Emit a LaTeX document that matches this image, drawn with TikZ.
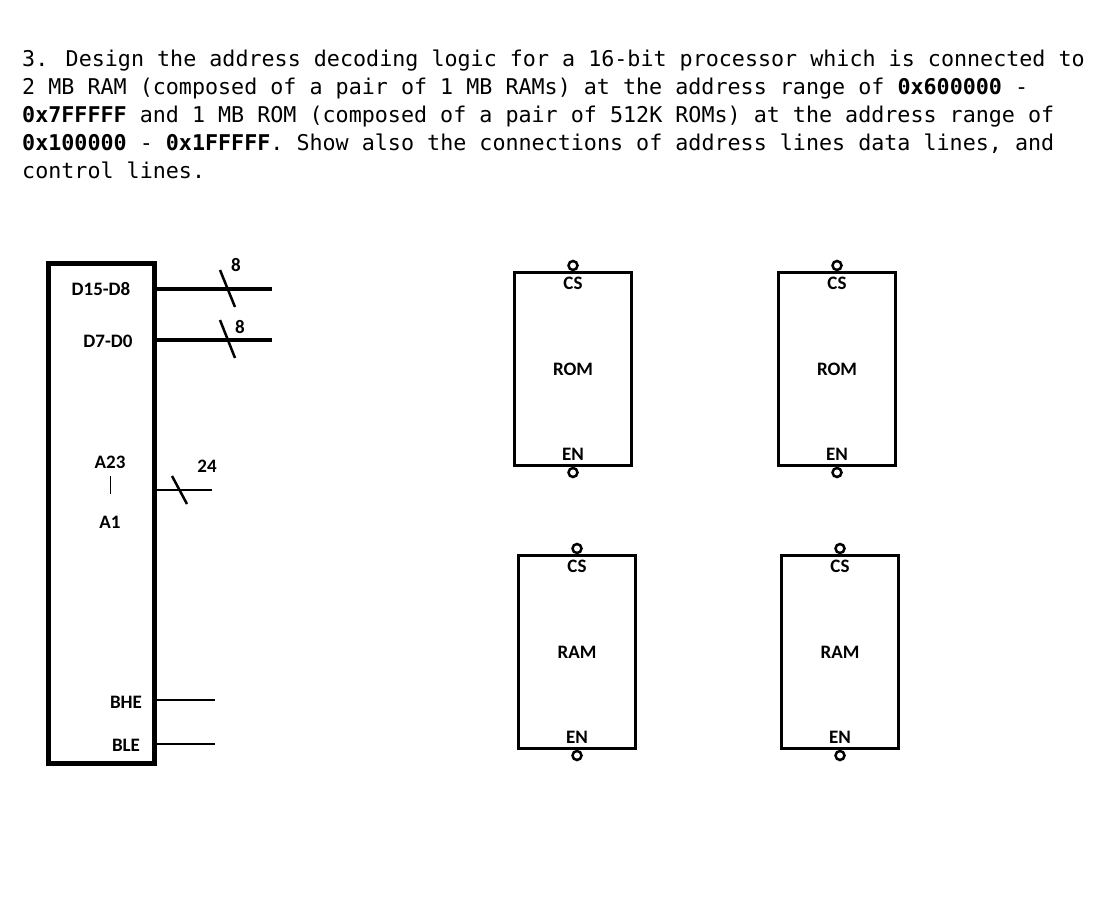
\documentclass[tikz,border=0pt]{standalone}
\usepackage{fontspec}
\setmainfont{Carlito}
\newfontfamily\codefont{DejaVu Sans Mono}
\usetikzlibrary{positioning}
\tikzset{
  lbl/.style={font=\bfseries\fontsize{19}{19}\selectfont, inner sep=0pt},
  chip/.style={draw, line width=2.5pt, minimum width=117pt, minimum height=193pt, inner sep=0pt},
  bubble/.style={circle, draw, line width=2.5pt, minimum size=9pt, inner sep=0pt, fill=white},
  bus/.style={line width=4.5pt},
  wire/.style={line width=2.5pt}
}
\begin{document}
\begin{tikzpicture}[x=1pt,y=-1pt]
	\useasboundingbox (0,0) rectangle (1118,912);
	% Question text
	\node [anchor=north west, align=left, inner sep=0pt, font=\codefont\fontsize{21.7}{28}\selectfont] (question) at (22,50)
	{3. Design the address decoding logic for a 16-bit processor which is connected to\\
	 2 MB RAM (composed of a pair of 1 MB RAMs) at the address range of \textbf{0x600000} -\\
	 \textbf{0x7FFFFF} and 1 MB ROM (composed of a pair of 512K ROMs) at the address range of\\
	 \textbf{0x100000} - \textbf{0x1FFFFF}. Show also the connections of address lines data lines, and\\
	 control lines.};
	% Processor
	\node [draw, line width=5pt, minimum width=106pt, minimum height=500pt, inner sep=0pt] (cpu) at (101,513) {};
	\node [lbl] (d15) at (101,289) {D15-D8};
	\node [lbl] (d7) at (108,341) {D7-D0};
	\node [lbl] (a23) at (110,462) {A23};
	\node [lbl] (a1) at (110,522) {A1};
	\node [lbl] (bhe) at (126,702) {BHE};
	\node [lbl] (ble) at (126,745) {BLE};
	\draw [line width=1pt] (a23.south) ++(0,8) coordinate (bartop) -- ++(0,18);
	% Buses
	\coordinate (dhi) at (272,289);
	\coordinate (dlo) at (272,340);
	\coordinate (addr) at (212,490);
	\coordinate (bhex) at (215,700);
	\coordinate (blex) at (215,744);
	\draw [bus] (cpu.east |- dhi) -- (dhi);
	\draw [bus] (cpu.east |- dlo) -- (dlo);
	\draw [wire] (cpu.east |- addr) -- (addr);
	\draw [wire] (cpu.east |- bhex) -- (bhex);
	\draw [wire] (cpu.east |- blex) -- (blex);
	\draw [wire] (220,270) -- (235,307);
	\draw [wire] (220,320) -- (235,358);
	\draw [wire] (172,476) -- (187,504);
	\node [lbl] (w1) at (236,265) {8};
	\node [lbl] (w2) at (240,327) {8};
	\node [lbl] (w3) at (207,466) {24};
	% Memory chips
	\foreach \name/\kind/\x/\y in {rom1/ROM/573/369, rom2/ROM/837/369, ram1/RAM/577/652, ram2/RAM/840/652} {
		\node [chip] (\name) at (\x,\y) {};
		\node [lbl] at (\name) {\kind};
		\node [lbl, below=6pt of \name.north] {CS};
		\node [lbl, above=6pt of \name.south] {EN};
		\node [bubble, above=0pt of \name.north] {};
		\node [bubble, below=0pt of \name.south] {};
	}
\end{tikzpicture}
\end{document}
